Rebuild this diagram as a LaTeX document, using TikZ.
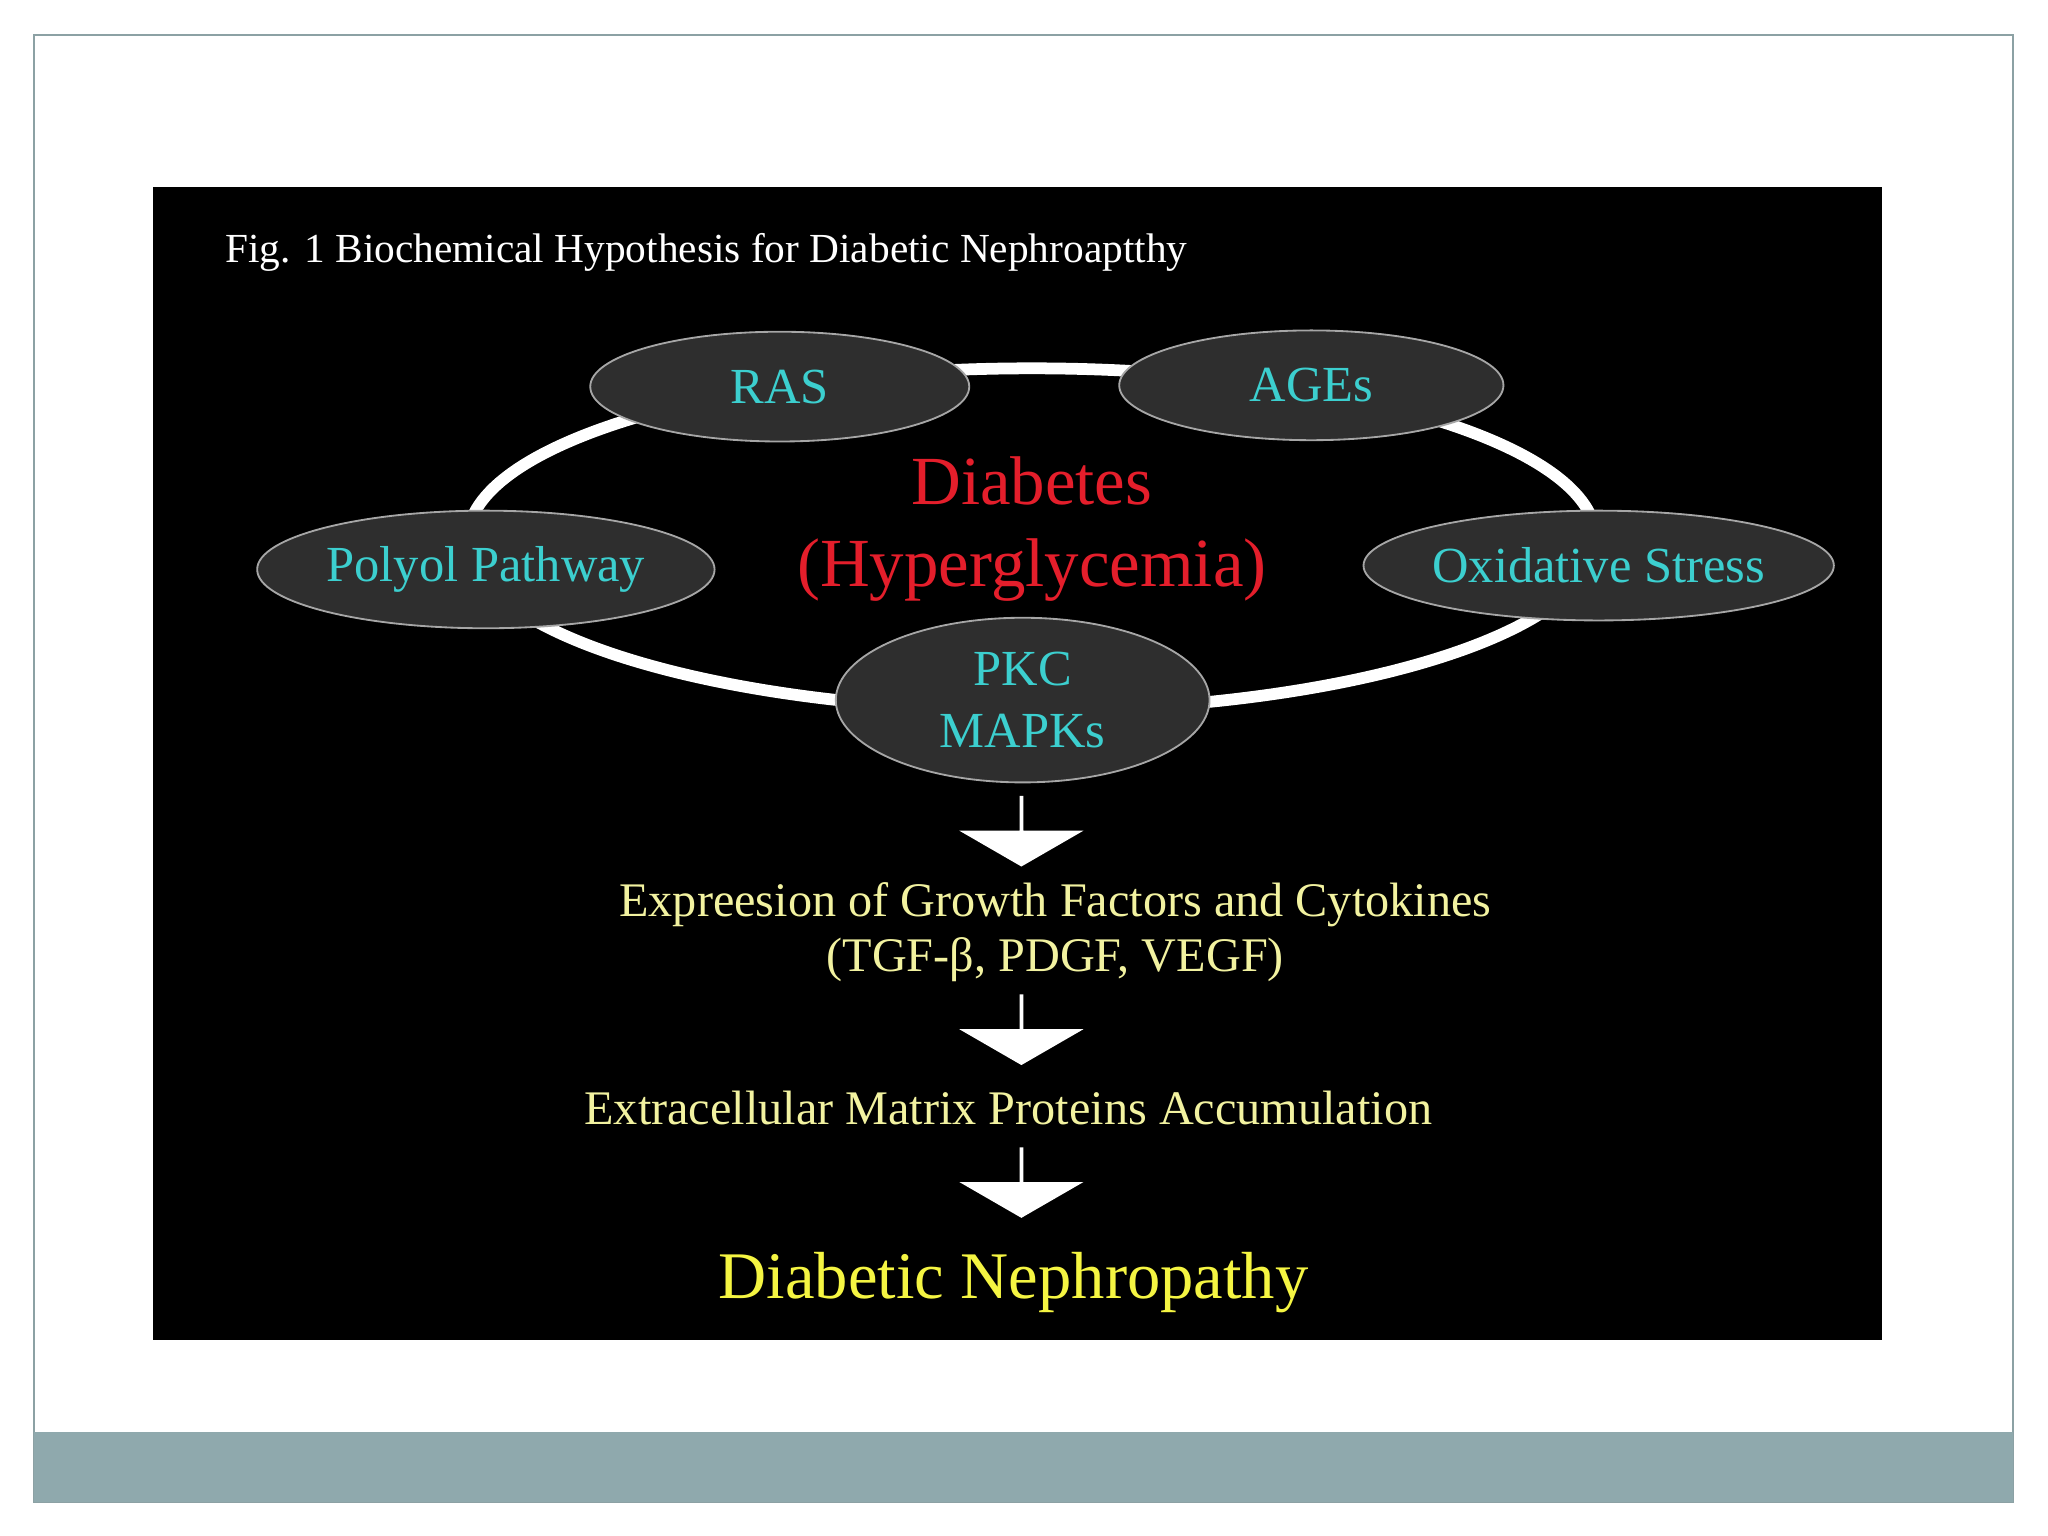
\documentclass[tikz,border=0pt]{standalone}
\usepackage{fontspec}
\setmainfont{Liberation Serif}
\usetikzlibrary{shapes.geometric,shapes.arrows}
\definecolor{cy}{HTML}{3CCFCF}
\definecolor{rd}{HTML}{E41E2B}
\definecolor{yl}{HTML}{F2F2A0}
\definecolor{yb}{HTML}{F5F542}
\definecolor{band}{HTML}{8FA9AD}
\definecolor{ell}{HTML}{2E2E2E}
\begin{document}
\begin{tikzpicture}[x=0.01cm,y=-0.01cm,
  pill/.style={ellipse,fill=ell,draw=gray!70,line width=0.4pt,inner sep=0pt,text=cy,font=\fontsize{11}{13}\selectfont},
  yt/.style={text=yl,font=\fontsize{10.5}{12}\selectfont,align=center},
  barrow/.style={single arrow,fill=white,draw=none,shape border rotate=270,minimum height=0.54cm,minimum width=0.95cm,single arrow head extend=0.225cm,single arrow tip angle=120,inner sep=0pt}]
\useasboundingbox (0,0) rectangle (1568,1176);
\fill[white] (0,0) rectangle (1568,1176);
\draw[band!80!gray,line width=0.5pt] (26,27) rectangle (1541,1150);
\fill[band] (26,1096) rectangle (1541,1150);
\fill[black] (117,143) rectangle (1441,1026);
\node[anchor=west,text=white,font=\fontsize{9}{11}\selectfont] (title) at (160,193) {Fig. 1 Biochemical Hypothesis for Diabetic Nephroaptthy};
\draw[white,line width=0.09cm] (790,413) ellipse [x radius=432,y radius=131];
\node[pill,minimum width=2.9cm,minimum height=0.84cm] (ras) at (597,296) {RAS};
\node[pill,minimum width=2.94cm,minimum height=0.84cm] (ages) at (1004,295) {AGEs};
\node[pill,minimum width=3.5cm,minimum height=0.9cm] (polyol) at (372,436) {Polyol Pathway};
\node[pill,minimum width=3.26cm,minimum height=0.84cm] (ox) at (1224,433) {Oxidative Stress};
\node[pill,minimum width=2.86cm,minimum height=1.26cm,align=center,font=\fontsize{11}{13.5}\selectfont] (pkc) at (783,536) {PKC\\MAPKs};
\node[text=rd,align=center,font=\fontsize{15}{18}\selectfont] (diab) at (790,405) {Diabetes\\(Hyperglycemia)};
\node[yt] (expr) at (808,714) {Expreesion of Growth Factors and Cytokines\\(TGF-β, PDGF, VEGF)};
\node[yt] (ecm) at (772,848) {Extracellular Matrix Proteins Accumulation};
\node[text=yb,font=\fontsize{14.5}{17}\selectfont] (dn) at (776,982) {Diabetic Nephropathy};
\node[barrow] (a1) at (782,636) {};
\node[barrow] (a2) at (782,788) {};
\node[barrow] (a3) at (782,905) {};
\end{tikzpicture}
\end{document}
